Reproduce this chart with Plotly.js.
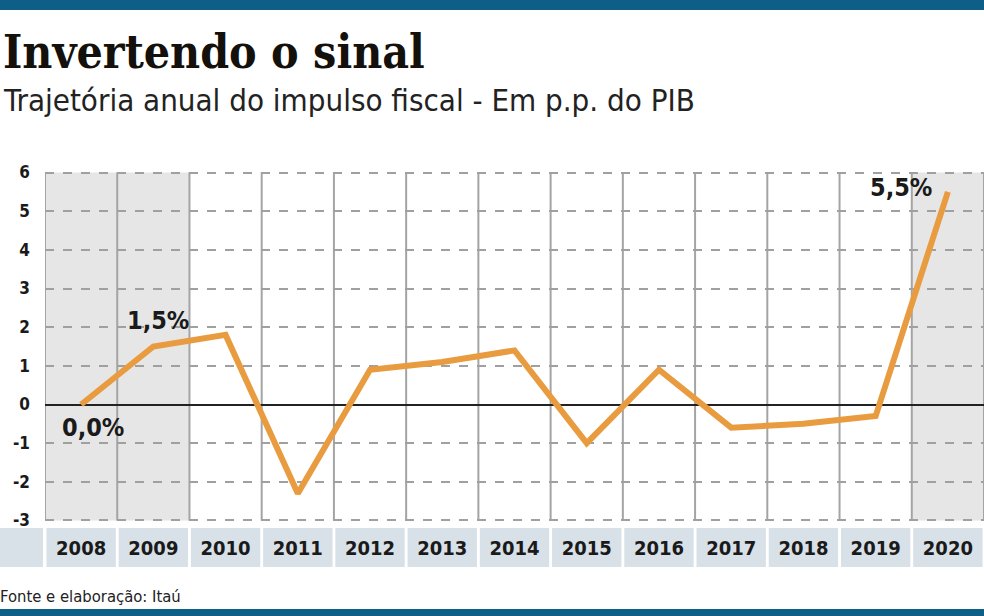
<!DOCTYPE html>
<html><head><meta charset="utf-8">
<script src="https://cdn.plot.ly/plotly-3.0.1.min.js"></script>
<style>html,body{margin:0;padding:0;background:#fff}#c{width:984px;height:616px}</style>
</head><body><div id="c"></div>
<script>
const years = ['2008','2009','2010','2011','2012','2013','2014','2015','2016','2017','2018','2019','2020'];
const impulso = [0.0, 1.5, 1.8, -2.3, 0.9, 1.1, 1.4, -1.0, 0.9, -0.6, -0.5, -0.3, 5.5];
const shadedYears = ['2008','2009','2020'];
const labelYears = ['2008','2009','2020'];
const labelTexts = ['0,0%','1,5%','5,5%'];
const yTicks = [-3,-2,-1,0,1,2,3,4,5,6];

const L = 45, T = 170, W = 939, H = 353, FW = 984, FH = 616;
const px = x => (x - L) / W;
const py = y => (T + H - y) / H;
const yMin = yTicks[0], yMax = yTicks[yTicks.length-1];

const shapes = [];
shadedYears.forEach(y => {
  const i = years.indexOf(y);
  shapes.push({type:'rect', xref:'x', yref:'y', x0:i-0.5, x1:i+0.5, y0:yMin, y1:yMax,
    fillcolor:'#e6e6e6', line:{width:0}, layer:'below'});
});
// column separators
for (let i = 0; i <= years.length; i++) {
  shapes.push({type:'line', xref:'x', yref:'y', x0:i-0.5, x1:i-0.5, y0:yMin, y1:yMax,
    line:{color:'#a4a4a4', width:2}, layer:'below'});
}
years.forEach((y, i) => {
  shapes.push({type:'rect', xref:'x', yref:'paper', x0:i-0.5+0.02, x1:i+0.5-0.02, y0:py(567), y1:py(528),
    fillcolor:'#d8e0e8', line:{width:0}, layer:'below'});
});
shapes.push({type:'rect', xref:'paper', yref:'paper', x0:px(0), x1:px(43), y0:py(567), y1:py(528),
  fillcolor:'#d8e0e8', line:{width:0}, layer:'below'});
shapes.push({type:'rect', xref:'paper', yref:'paper', x0:px(0), x1:px(FW), y0:py(10), y1:py(0),
  fillcolor:'#0e5f87', line:{width:0}});
shapes.push({type:'rect', xref:'paper', yref:'paper', x0:px(0), x1:px(FW), y0:py(FH), y1:py(609),
  fillcolor:'#0e5f87', line:{width:0}});

const offsets = {'2008':[12,-23], '2009':[5,26], '2020':[-47,4]};
const annotations = labelYears.map((y, k) => {
  const i = years.indexOf(y);
  return {x: i, y: impulso[i], xref:'x', yref:'y', text: '<b>' + labelTexts[k] + '</b>', showarrow:false,
    xanchor:'center', yanchor:'middle', xshift: offsets[y][0], yshift: offsets[y][1],
    font:{family:'"DejaVu Sans Condensed", sans-serif', size:25, color:'#1a1a1a'}};
});
annotations.push({xref:'paper', yref:'paper', x:px(1), y:py(100), xanchor:'left', yanchor:'middle',
  text:'Trajetória anual do impulso fiscal - Em p.p. do PIB', showarrow:false,
  font:{family:'"DejaVu Sans Condensed", sans-serif', size:31, color:'#222'}});
annotations.push({xref:'paper', yref:'paper', x:px(-2), y:py(596), xanchor:'left', yanchor:'middle',
  text:'Fonte e elaboração: Itaú', showarrow:false,
  font:{family:'"DejaVu Sans Condensed", sans-serif', size:16.5, color:'#222'}});

const trace = {x: years, y: impulso, type:'scatter', mode:'lines',
  line:{color:'#e89c3f', width:6}, hoverinfo:'skip'};

const layout = {
  width: FW, height: FH, paper_bgcolor:'#fff', plot_bgcolor:'rgba(0,0,0,0)',
  margin:{l:L, r:FW-L-W, t:T, b:FH-T-H},
  showlegend:false,
  title:{text:'Invertendo o sinal', xref:'container', yref:'container', x:3/FW, xanchor:'left',
    y:1-52/FH, yanchor:'middle',
    font:{family:'"DejaVu Serif Condensed", serif', size:46, color:'#14100c', weight:900}},
  xaxis:{type:'category', range:[-0.5, 12.5], showgrid:false, zeroline:false, showline:false, ticks:'',
    ticklabelstandoff:11, fixedrange:true,
    tickfont:{family:'"DejaVu Sans Condensed", sans-serif', size:20, color:'#1a1a1a', weight:'bold'}},
  yaxis:{range:[-3.065, 6.065], tickvals:yTicks, ticktext:yTicks.map(String), showgrid:true,
    gridcolor:'#a0a0a0', gridwidth:2, griddash:'dash', zeroline:true, zerolinecolor:'#222',
    zerolinewidth:2, showline:false, ticks:'', ticklabelstandoff:14, fixedrange:true,
    tickfont:{family:'"DejaVu Sans Condensed", sans-serif', size:17, color:'#1a1a1a', weight:'bold'}},
  shapes: shapes, annotations: annotations
};
Plotly.newPlot('c', [trace], layout, {displayModeBar:false, staticPlot:true});
</script></body></html>
